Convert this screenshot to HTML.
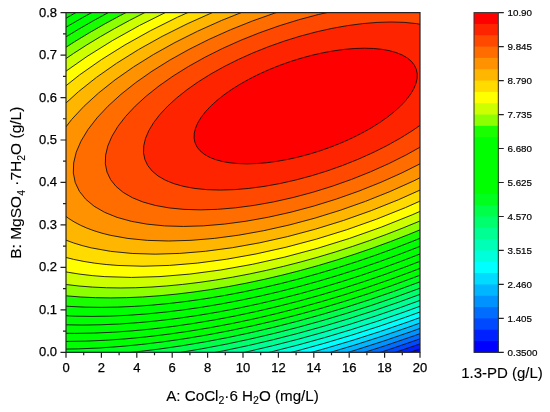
<!DOCTYPE html>
<html><head><meta charset="utf-8"><style>
html,body{margin:0;padding:0;background:#fff;width:550px;height:412px;overflow:hidden}
svg{display:block;font-family:"Liberation Sans",Arial,sans-serif}
text{stroke:#000;stroke-width:0.25px}
.t{stroke-width:0.12px}
.c text{stroke-width:0.18px}
</style></head><body>
<svg width="550" height="412" viewBox="0 0 550 412">
<defs><clipPath id="c"><rect x="66" y="12.6" width="354" height="339.7"/></clipPath></defs>
<g clip-path="url(#c)">
<rect x="66" y="12.6" width="354" height="339.7" fill="#0000ff"/>
<g transform="rotate(161.63 305.68 106.03)">
<ellipse cx="305.68" cy="106.03" rx="661.04" ry="266.73" fill="#0021ff"/><ellipse cx="305.68" cy="106.03" rx="649.5" ry="262.08" fill="#0049ff"/><ellipse cx="305.68" cy="106.03" rx="637.76" ry="257.34" fill="#006dff"/><ellipse cx="305.68" cy="106.03" rx="625.79" ry="252.51" fill="#0092ff"/><ellipse cx="305.68" cy="106.03" rx="613.59" ry="247.59" fill="#00b6ff"/><ellipse cx="305.68" cy="106.03" rx="601.14" ry="242.56" fill="#00dbff"/><ellipse cx="305.68" cy="106.03" rx="588.43" ry="237.43" fill="#00ffff"/><ellipse cx="305.68" cy="106.03" rx="575.44" ry="232.19" fill="#00ffdb"/><ellipse cx="305.68" cy="106.03" rx="562.15" ry="226.83" fill="#00ffb6"/><ellipse cx="305.68" cy="106.03" rx="548.53" ry="221.34" fill="#00ff92"/><ellipse cx="305.68" cy="106.03" rx="534.57" ry="215.7" fill="#00ff6d"/><ellipse cx="305.68" cy="106.03" rx="520.24" ry="209.92" fill="#00ff49"/><ellipse cx="305.68" cy="106.03" rx="505.5" ry="203.97" fill="#00ff1c"/><ellipse cx="305.68" cy="106.03" rx="490.31" ry="197.84" fill="#00ff00"/><ellipse cx="305.68" cy="106.03" rx="474.64" ry="191.52" fill="#00ff00"/><ellipse cx="305.68" cy="106.03" rx="458.44" ry="184.98" fill="#00ff00"/><ellipse cx="305.68" cy="106.03" rx="441.64" ry="178.2" fill="#00ff00"/><ellipse cx="305.68" cy="106.03" rx="424.17" ry="171.15" fill="#00ff00"/><ellipse cx="305.68" cy="106.03" rx="405.96" ry="163.8" fill="#19ff00"/><ellipse cx="305.68" cy="106.03" rx="386.88" ry="156.11" fill="#8cff00"/><ellipse cx="305.68" cy="106.03" rx="366.82" ry="148.01" fill="#cdff00"/><ellipse cx="305.68" cy="106.03" rx="345.6" ry="139.45" fill="#ffff00"/><ellipse cx="305.68" cy="106.03" rx="322.98" ry="130.32" fill="#ffdb00"/><ellipse cx="305.68" cy="106.03" rx="298.66" ry="120.51" fill="#ffb600"/><ellipse cx="305.68" cy="106.03" rx="272.17" ry="109.82" fill="#ff9200"/><ellipse cx="305.68" cy="106.03" rx="242.8" ry="97.97" fill="#ff6d00"/><ellipse cx="305.68" cy="106.03" rx="209.36" ry="84.48" fill="#ff4900"/><ellipse cx="305.68" cy="106.03" rx="169.45" ry="68.37" fill="#ff2400"/><ellipse cx="305.68" cy="106.03" rx="116.58" ry="47.04" fill="#ff0000"/>
<g fill="none" stroke="#111" stroke-width="0.8"><ellipse cx="305.68" cy="106.03" rx="661.04" ry="266.73"/><ellipse cx="305.68" cy="106.03" rx="649.5" ry="262.08"/><ellipse cx="305.68" cy="106.03" rx="637.76" ry="257.34"/><ellipse cx="305.68" cy="106.03" rx="625.79" ry="252.51"/><ellipse cx="305.68" cy="106.03" rx="613.59" ry="247.59"/><ellipse cx="305.68" cy="106.03" rx="601.14" ry="242.56"/><ellipse cx="305.68" cy="106.03" rx="588.43" ry="237.43"/><ellipse cx="305.68" cy="106.03" rx="575.44" ry="232.19"/><ellipse cx="305.68" cy="106.03" rx="562.15" ry="226.83"/><ellipse cx="305.68" cy="106.03" rx="548.53" ry="221.34"/><ellipse cx="305.68" cy="106.03" rx="534.57" ry="215.7"/><ellipse cx="305.68" cy="106.03" rx="520.24" ry="209.92"/><ellipse cx="305.68" cy="106.03" rx="505.5" ry="203.97"/><ellipse cx="305.68" cy="106.03" rx="490.31" ry="197.84"/><ellipse cx="305.68" cy="106.03" rx="474.64" ry="191.52"/><ellipse cx="305.68" cy="106.03" rx="458.44" ry="184.98"/><ellipse cx="305.68" cy="106.03" rx="441.64" ry="178.2"/><ellipse cx="305.68" cy="106.03" rx="424.17" ry="171.15"/><ellipse cx="305.68" cy="106.03" rx="405.96" ry="163.8"/><ellipse cx="305.68" cy="106.03" rx="386.88" ry="156.11"/><ellipse cx="305.68" cy="106.03" rx="366.82" ry="148.01"/><ellipse cx="305.68" cy="106.03" rx="345.6" ry="139.45"/><ellipse cx="305.68" cy="106.03" rx="322.98" ry="130.32"/><ellipse cx="305.68" cy="106.03" rx="298.66" ry="120.51"/><ellipse cx="305.68" cy="106.03" rx="272.17" ry="109.82"/><ellipse cx="305.68" cy="106.03" rx="242.8" ry="97.97"/><ellipse cx="305.68" cy="106.03" rx="209.36" ry="84.48"/><ellipse cx="305.68" cy="106.03" rx="169.45" ry="68.37"/><ellipse cx="305.68" cy="106.03" rx="116.58" ry="47.04"/></g>
</g>
</g>
<rect x="66" y="12.6" width="354" height="339.7" fill="none" stroke="#222" stroke-width="1.2"/>
<path d="M66 352.3v5.5M83.7 352.3v3M101.4 352.3v5.5M119.1 352.3v3M136.8 352.3v5.5M154.5 352.3v3M172.2 352.3v5.5M189.9 352.3v3M207.6 352.3v5.5M225.3 352.3v3M243 352.3v5.5M260.7 352.3v3M278.4 352.3v5.5M296.1 352.3v3M313.8 352.3v5.5M331.5 352.3v3M349.2 352.3v5.5M366.9 352.3v3M384.6 352.3v5.5M402.3 352.3v3M420 352.3v5.5M66 352.3h-5.5M66 331.07h-3M66 309.84h-5.5M66 288.61h-3M66 267.38h-5.5M66 246.14h-3M66 224.91h-5.5M66 203.68h-3M66 182.45h-5.5M66 161.22h-3M66 139.99h-5.5M66 118.76h-3M66 97.53h-5.5M66 76.29h-3M66 55.06h-5.5M66 33.83h-3M66 12.6h-5.5" stroke="#222" stroke-width="1.2" fill="none"/>
<g font-size="13" fill="#000" text-anchor="middle"><text x="66" y="371.7">0</text><text x="101.4" y="371.7">2</text><text x="136.8" y="371.7">4</text><text x="172.2" y="371.7">6</text><text x="207.6" y="371.7">8</text><text x="243" y="371.7">10</text><text x="278.4" y="371.7">12</text><text x="313.8" y="371.7">14</text><text x="349.2" y="371.7">16</text><text x="384.6" y="371.7">18</text><text x="420" y="371.7">20</text></g>
<g font-size="13" fill="#000" text-anchor="end"><text x="57" y="356.3">0.0</text><text x="57" y="313.84">0.1</text><text x="57" y="271.38">0.2</text><text x="57" y="228.91">0.3</text><text x="57" y="186.45">0.4</text><text x="57" y="143.99">0.5</text><text x="57" y="101.53">0.6</text><text x="57" y="59.06">0.7</text><text x="57" y="16.6">0.8</text></g>
<text class="t" x="242.5" y="400.8" font-size="15.2" fill="#000" text-anchor="middle">A: CoCl<tspan font-size="10.5" dy="3.5">2</tspan><tspan dy="-3.5">·6 H</tspan><tspan font-size="10.5" dy="3.5">2</tspan><tspan dy="-3.5">O (mg/L)</tspan></text>
<text class="t" transform="translate(21 182.7) rotate(-90)" font-size="15.5" fill="#000" text-anchor="middle">B: MgSO<tspan font-size="10.5" dy="3.5">4</tspan><tspan dy="-3.5"> ·7H</tspan><tspan font-size="10.5" dy="3.5">2</tspan><tspan dy="-3.5">O (g/L)</tspan></text>
<rect x="474" y="12.6" width="24.3" height="339.8" fill="#ff0000"/><rect x="474" y="23.93" width="24.3" height="328.47" fill="#ff2400"/><rect x="474" y="35.25" width="24.3" height="317.15" fill="#ff4900"/><rect x="474" y="46.58" width="24.3" height="305.82" fill="#ff6d00"/><rect x="474" y="57.91" width="24.3" height="294.49" fill="#ff9200"/><rect x="474" y="69.23" width="24.3" height="283.17" fill="#ffb600"/><rect x="474" y="80.56" width="24.3" height="271.84" fill="#ffdb00"/><rect x="474" y="91.89" width="24.3" height="260.51" fill="#ffff00"/><rect x="474" y="103.21" width="24.3" height="249.19" fill="#cdff00"/><rect x="474" y="114.54" width="24.3" height="237.86" fill="#8cff00"/><rect x="474" y="125.87" width="24.3" height="226.53" fill="#19ff00"/><rect x="474" y="137.19" width="24.3" height="215.21" fill="#00ff00"/><rect x="474" y="148.52" width="24.3" height="203.88" fill="#00ff00"/><rect x="474" y="159.85" width="24.3" height="192.55" fill="#00ff00"/><rect x="474" y="171.17" width="24.3" height="181.23" fill="#00ff00"/><rect x="474" y="182.5" width="24.3" height="169.9" fill="#00ff00"/><rect x="474" y="193.83" width="24.3" height="158.57" fill="#00ff1c"/><rect x="474" y="205.15" width="24.3" height="147.25" fill="#00ff49"/><rect x="474" y="216.48" width="24.3" height="135.92" fill="#00ff6d"/><rect x="474" y="227.81" width="24.3" height="124.59" fill="#00ff92"/><rect x="474" y="239.13" width="24.3" height="113.27" fill="#00ffb6"/><rect x="474" y="250.46" width="24.3" height="101.94" fill="#00ffdb"/><rect x="474" y="261.79" width="24.3" height="90.61" fill="#00ffff"/><rect x="474" y="273.11" width="24.3" height="79.29" fill="#00dbff"/><rect x="474" y="284.44" width="24.3" height="67.96" fill="#00b6ff"/><rect x="474" y="295.77" width="24.3" height="56.63" fill="#0092ff"/><rect x="474" y="307.09" width="24.3" height="45.31" fill="#006dff"/><rect x="474" y="318.42" width="24.3" height="33.98" fill="#0049ff"/><rect x="474" y="329.75" width="24.3" height="22.65" fill="#0021ff"/><rect x="474" y="341.07" width="24.3" height="11.33" fill="#0000ff"/>
<rect x="474" y="12.6" width="24.3" height="339.8" fill="none" stroke="#333" stroke-width="1"/>
<path d="M498.3 352.4h5.5M498.3 318.42h5.5M498.3 284.44h5.5M498.3 250.46h5.5M498.3 216.48h5.5M498.3 182.5h5.5M498.3 148.52h5.5M498.3 114.54h5.5M498.3 80.56h5.5M498.3 46.58h5.5M498.3 12.6h5.5" stroke="#222" stroke-width="1.2"/>
<g class="c" font-size="9.8" fill="#000"><text x="507.5" y="356">0.3500</text><text x="507.5" y="322.02">1.405</text><text x="507.5" y="288.04">2.460</text><text x="507.5" y="254.06">3.515</text><text x="507.5" y="220.08">4.570</text><text x="507.5" y="186.1">5.625</text><text x="507.5" y="152.12">6.680</text><text x="507.5" y="118.14">7.735</text><text x="507.5" y="84.16">8.790</text><text x="507.5" y="50.18">9.845</text><text x="507.5" y="16.2">10.90</text></g>
<text class="t" x="502" y="377.5" font-size="15" fill="#000" text-anchor="middle">1.3-PD (g/L)</text>
</svg>
</body></html>
